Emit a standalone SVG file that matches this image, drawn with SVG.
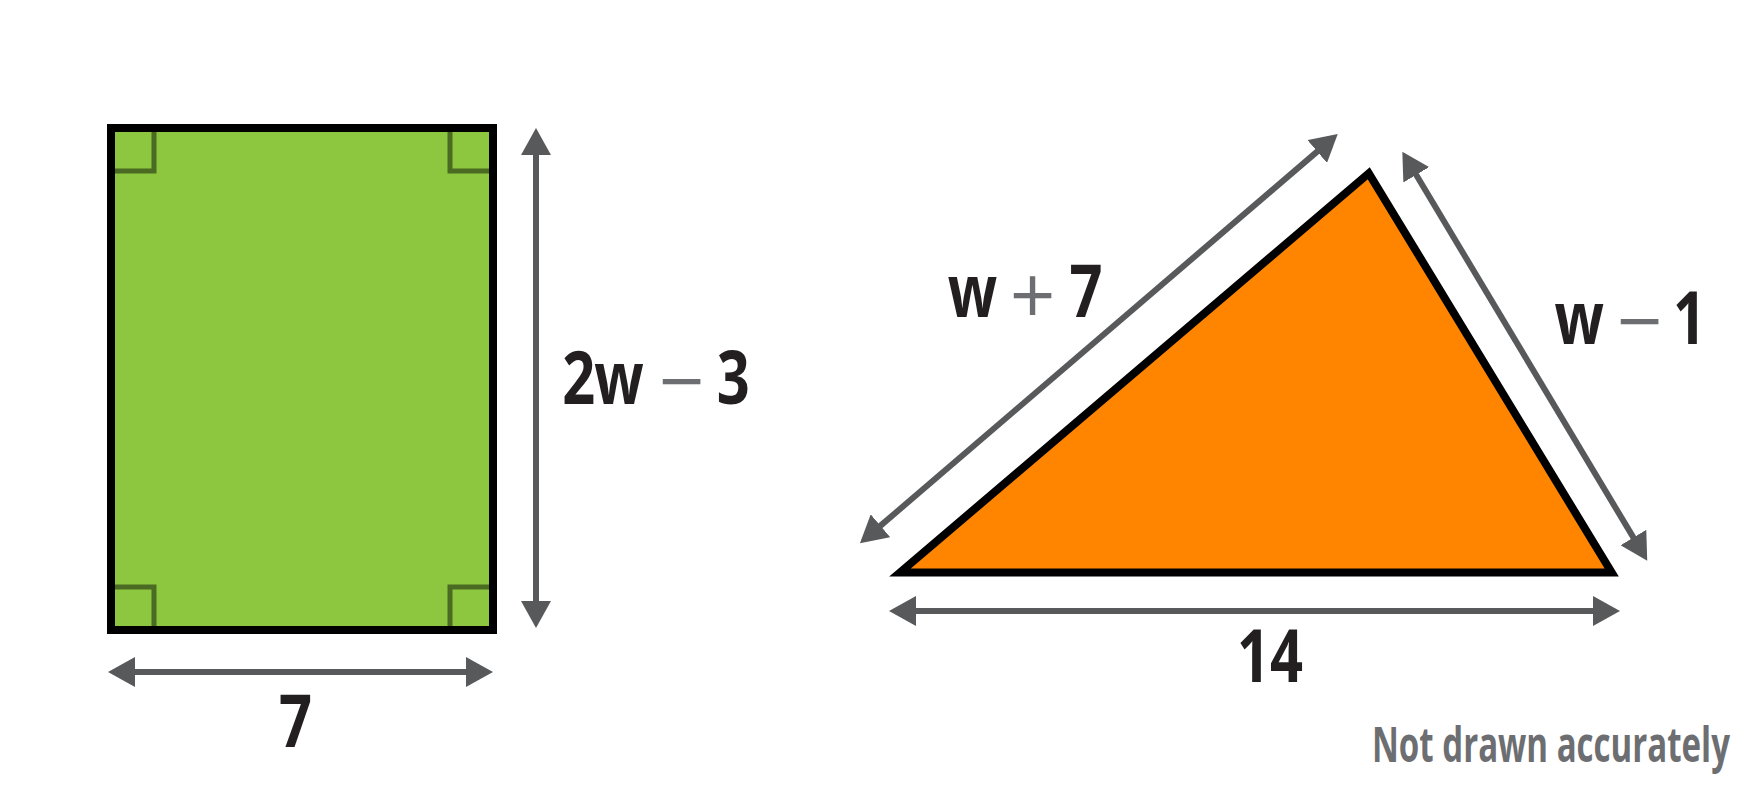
<svg xmlns="http://www.w3.org/2000/svg" width="1760" height="800" viewBox="0 0 1760 800">
  <defs>
    <style>
      .dim { stroke: #58595B; stroke-width: 6; fill: none; marker-start: url(#ah); marker-end: url(#ah); }
      .mark { stroke: #4B6B22; stroke-width: 5; fill: none; stroke-linejoin: miter; }
      .lbl { font-family: "Open Sans", "Liberation Sans", sans-serif; font-weight: 700; font-size: 74px; fill: #231F20; text-anchor: middle; }
      .op { font-family: "Open Sans", "Liberation Sans", sans-serif; font-weight: 400; font-size: 80px; fill: #6D6E71; text-anchor: middle; }
      .note { font-family: "Open Sans", "Liberation Sans", sans-serif; font-weight: 700; font-size: 48px; fill: #6D6E71; }
    </style>
    <marker id="ah" viewBox="0 0 27 30" refX="1" refY="15" markerWidth="27" markerHeight="30" markerUnits="userSpaceOnUse" orient="auto-start-reverse">
      <path d="M0,0 L27,15 L0,30 Z" fill="#58595B"/>
    </marker>
  </defs>
  <rect width="1760" height="800" fill="#FFFFFF"/>

  <g id="rectangle">
    <rect x="111" y="128" width="382" height="502" fill="#8DC63F" stroke="#000000" stroke-width="8"/>
    <polyline class="mark" points="115,171 154,171 154,132"/>
    <polyline class="mark" points="489,171 450,171 450,132"/>
    <polyline class="mark" points="115,587 154,587 154,626"/>
    <polyline class="mark" points="489,587 450,587 450,626"/>
  </g>

  <g id="triangle">
    <polygon points="900,572.5 1368.8,173.3 1611.7,572.5" fill="#FF8500" stroke="#000000" stroke-width="8" stroke-linejoin="miter"/>
  </g>

  <g id="connectors">
    <line class="dim" x1="536" y1="154" x2="536" y2="602"/>
    <line class="dim" x1="134" y1="672" x2="467" y2="672"/>
    <line class="dim" x1="915" y1="611" x2="1594" y2="611"/>
    <line class="dim" x1="879.7" y1="526.4" x2="1318" y2="150.9"/>
    <line class="dim" x1="1415.7" y1="174" x2="1633.9" y2="538.4"/>
  </g>

  <g id="labels">
    <text class="lbl" transform="translate(0,746.7) scale(0.78,1)" x="378.8" y="0">7</text>
    <g id="label-2w-3">
      <text class="lbl" transform="translate(0,404) scale(0.78,1)" y="0"><tspan x="741.9">2</tspan><tspan x="793.6">w</tspan><tspan x="940.1">3</tspan></text>
      <text class="op" x="681.5" y="410.3">−</text>
    </g>
    <g id="label-w7">
      <text class="lbl" transform="translate(0,317.3) scale(0.78,1)" y="0"><tspan x="1246.7">w</tspan><tspan x="1392.3">7</tspan></text>
      <text class="op" x="1032.7" y="324.3">+</text>
    </g>
    <g id="label-w1">
      <text class="lbl" transform="translate(0,344) scale(0.78,1)" y="0"><tspan x="2024.6">w</tspan><tspan x="2166">1</tspan></text>
      <text class="op" x="1639.7" y="350.3">−</text>
    </g>
    <text class="lbl" transform="translate(0,682) scale(0.78,1)" x="1628.2" y="0">14</text>
    <text class="note" x="1372" y="761.7" textLength="358" lengthAdjust="spacingAndGlyphs">Not drawn accurately</text>
  </g>
</svg>
